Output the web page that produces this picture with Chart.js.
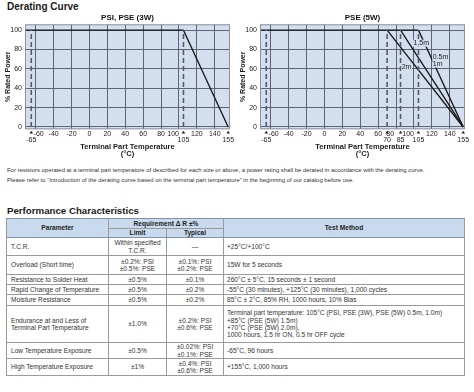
<!DOCTYPE html>
<html><head><meta charset="utf-8">
<script src="https://cdn.jsdelivr.net/npm/chart.js@4.4.1/dist/chart.umd.min.js"></script>
<style>
body{margin:0;width:474px;height:392px;background:#fff;font-family:"Liberation Sans",Arial,sans-serif;color:#222;position:relative;overflow:hidden}
.h{position:absolute;left:7px;font-weight:bold;font-size:10px;color:#1a1a1a;line-height:12px;white-space:nowrap}
canvas{position:absolute;top:10px}
#c1{left:0}
#c2{left:235px}
.note{position:absolute;left:7px;font-size:5.93px;line-height:7px;white-space:nowrap;color:#333}
table{position:absolute;left:6px;top:218px;width:459px;border-collapse:collapse;table-layout:fixed;font-size:6.6px;line-height:7.4px;color:#333}
td,th{border:1px solid #9a9a9a;padding:0 3px;vertical-align:middle;overflow:hidden;white-space:nowrap}
th{background:#c9daee;font-weight:bold;color:#222}
thead tr:first-child th{border-top:1px solid #7f93ad}
thead tr:last-child th,thead tr:first-child th[rowspan]{border-bottom:1px solid #7f93ad}
td.c{text-align:center}
td.p{padding-left:4px}
</style></head>
<body>
<div class="h" style="top:1px">Derating Curve</div>
<canvas id="c1" width="237" height="150"></canvas>
<canvas id="c2" width="237" height="150"></canvas>
<div class="note" style="top:167px">For resistors operated at a terminal part temperature of described for each size or above, a power rating shall be derated in accordance with the derating curve.</div>
<div class="note" style="top:177px">Please refer to “Introduction of the derating curve based on the terminal part temperature” in the beginning of our catalog before use.</div>
<div class="h" style="top:205px;font-size:9.7px">Performance Characteristics</div>
<table>
<colgroup><col style="width:102px"><col style="width:58px"><col style="width:57px"><col></colgroup>
<thead>
<tr style="height:10px"><th rowspan="2">Parameter</th><th colspan="2">Requirement Δ R ±%</th><th rowspan="2">Test Method</th></tr>
<tr style="height:9px"><th>Limit</th><th>Typical</th></tr>
</thead>
<tbody>
<tr style="height:18px"><td class="p">T.C.R.</td><td class="c">Within specified<br>T.C.R.</td><td class="c">—</td><td>+25°C/+100°C</td></tr>
<tr style="height:19px"><td class="p">Overload (Short time)</td><td class="c">±0.2%: PSI<br>±0.5%: PSE</td><td class="c">±0.1%: PSI<br>±0.2%: PSE</td><td>15W for 5 seconds</td></tr>
<tr style="height:10px"><td class="p">Resistance to Solder Heat</td><td class="c">±0.5%</td><td class="c">±0.1%</td><td>260°C ± 5°C, 15 seconds ± 1 second</td></tr>
<tr style="height:10px"><td class="p">Rapid Change of Temperature</td><td class="c">±0.5%</td><td class="c">±0.2%</td><td>-55°C (30 minutes), +125°C (30 minutes), 1,000 cycles</td></tr>
<tr style="height:11px"><td class="p">Moisture Resistance</td><td class="c">±0.5%</td><td class="c">±0.2%</td><td>85°C ± 2°C, 85% RH, 1000 hours, 10% Bias</td></tr>
<tr style="height:37px"><td class="p">Endurance at and Less of<br>Terminal Part Temperature</td><td class="c">±1.0%</td><td class="c">±0.2%: PSI<br>±0.6%: PSE</td><td>Terminal part temperature: 105°C (PSI, PSE (3W), PSE (5W) 0.5m, 1.0m)<br>+85°C (PSE (5W) 1.5m)<br>+70°C (PSE (5W) 2.0m),<br>1000 hours, 1.5 hr ON, 0.5 hr OFF cycle</td></tr>
<tr style="height:16px"><td class="p">Low Temperature Exposure</td><td class="c">±0.5%</td><td class="c">±0.02%: PSI<br>±0.1%: PSE</td><td>-65°C, 96 hours</td></tr>
<tr style="height:17px"><td class="p">High Temperature Exposure</td><td class="c">±1%</td><td class="c">±0.4%: PSI<br>±0.6%: PSE</td><td>+155°C, 1,000 hours</td></tr>
</tbody></table>
<script>
// ---- data ----
const xTicks = [-60, -40, -20, 0, 20, 40, 60, 80, 100, 120, 140];
const yTicks = [0, 20, 40, 60, 80, 100];
const xMin = -72, xMax = 157, yMin = -2.4, yMax = 106;

// PSI, PSE (3W)
const markers3W = [-65, 105, 155];
const dashed3W = [-65, 105];
const curve3W_T = [-72, 105, 155];
const curve3W_P = [100, 100, 0];

// PSE (5W)
const markers5W = [-65, 70, 85, 105, 155];
const dashed5W = [-65, 70, 85, 105];
const flat5W_T = [-72, 105];
const flat5W_P = [100, 100];
const lead2m_T = [70, 155];
const lead15m_T = [85, 155];
const lead1m_T = [105, 155];
const slope_P = [100, 0];
const leadLabels = ['2m', '1.5m', '0.5m', '1m'];
const leadLabel_T = [86.3, 99.5, 121, 121];
const leadLabel_P = [62, 86.5, 72, 65];

const pts = (xs, ys) => xs.map((x, i) => ({x, y: ys[i]}));
const BG = '#d3dfee', GRID = '#5d6574', INK = '#151515';

function solid(xs, ys) {
  return {data: pts(xs, ys), borderColor: INK, borderWidth: 1.3, pointRadius: 0, showLine: true, fill: false};
}
function dashed(t) {
  return {data: pts([t, t], [0, 100]), borderColor: '#555b66', borderWidth: 1.6, borderDash: [5, 3], pointRadius: 0, showLine: true, fill: false};
}

const decor = {
  id: 'decor',
  beforeDraw(c) {
    const a = c.chartArea, ctx = c.ctx;
    ctx.save(); ctx.fillStyle = BG; ctx.fillRect(a.left, a.top, a.right - a.left, a.bottom - a.top); ctx.restore();
  },
  afterDraw(c, args, o) {
    const a = c.chartArea, ctx = c.ctx, xs = c.scales.x, ys = c.scales.y;
    ctx.save();
    ctx.strokeStyle = '#8c929c'; ctx.lineWidth = 1;
    ctx.strokeRect(a.left + 0.5, a.top + 0.5, a.right - a.left - 1, a.bottom - a.top - 1);
    ctx.fillStyle = '#222';
    ctx.font = '7px "Liberation Sans", Arial, sans-serif';
    ctx.textAlign = 'center'; ctx.textBaseline = 'top';
    (o.markers || []).forEach(v => {
      const px = xs.getPixelForValue(v);
      ctx.beginPath();
      ctx.moveTo(px, a.bottom + 1.5); ctx.lineTo(px - 1.8, a.bottom + 4.2); ctx.lineTo(px + 1.8, a.bottom + 4.2);
      ctx.closePath(); ctx.fill();
      ctx.fillText(String(v), px, a.bottom + 7.2);
    });
    (o.labels || []).forEach((t, i) => {
      const px = xs.getPixelForValue(o.lx[i]), py = ys.getPixelForValue(o.ly[i]);
      ctx.textAlign = 'left'; ctx.textBaseline = 'middle';
      const w = ctx.measureText(t).width;
      ctx.fillStyle = BG; ctx.fillRect(px - 0.5, py - 3.5, w + 1, 7);
      ctx.fillStyle = '#222'; ctx.fillText(t, px, py);
    });
    ctx.restore();
  }
};

function makeChart(id, title, datasets, markers, labels) {
  const tickLabel = v => {
    let s = String(v);
    if (markers.some(m => m - v > 0 && m - v <= 6)) s = s + '      ';
    if (markers.some(m => v - m > 0 && v - m <= 6)) s = '   ' + s;
    return s;
  };
  return new Chart(document.getElementById(id), {
    type: 'scatter',
    data: {datasets},
    options: {
      responsive: false, animation: false, events: [],
      layout: {padding: {left: 0, right: 7, top: 0, bottom: 0}},
      plugins: {
        legend: {display: false}, tooltip: {enabled: false},
        title: {display: true, text: title, fullSize: false, color: '#111',
                font: {family: '"Liberation Sans", Arial, sans-serif', size: 8, weight: 'bold'},
                padding: {top: 2.5, bottom: 2.2}},
        decor: {markers, labels: labels ? labels.t : [], lx: labels ? labels.x : [], ly: labels ? labels.y : []}
      },
      scales: {
        x: {
          type: 'linear', min: xMin, max: xMax,
          afterBuildTicks: s => { s.ticks = xTicks.map(v => ({value: v})); },
          afterFit: s => { s.height = 30.7; },
          grid: {color: GRID, lineWidth: 1, drawTicks: false},
          border: {display: false},
          ticks: {autoSkip: false, maxRotation: 0, minRotation: 0, padding: 1, color: '#222',
                  font: {family: '"Liberation Sans", Arial, sans-serif', size: 7}, callback: tickLabel},
          title: {display: true, text: ['Terminal Part Temperature', '(°C)'], color: '#1a1a1a',
                  font: {family: '"Liberation Sans", Arial, sans-serif', size: 7.5, weight: 'bold', lineHeight: 1},
                  padding: {top: 0, bottom: 2}}
        },
        y: {
          type: 'linear', min: yMin, max: yMax,
          afterBuildTicks: s => { s.ticks = yTicks.map(v => ({value: v})); },
          afterFit: s => { s.width = 25; },
          grid: {color: GRID, lineWidth: 1, drawTicks: false},
          border: {display: false},
          ticks: {padding: 3, color: '#222', font: {family: '"Liberation Sans", Arial, sans-serif', size: 7}},
          title: {display: true, text: '% Rated Power', color: '#1a1a1a',
                  font: {family: '"Liberation Sans", Arial, sans-serif', size: 7, weight: 'bold'},
                  padding: {top: 4, bottom: 0}}
        }
      }
    },
    plugins: [decor]
  });
}

makeChart('c1', 'PSI, PSE (3W)',
  [...dashed3W.map(dashed), solid(curve3W_T, curve3W_P)],
  markers3W, null);

makeChart('c2', 'PSE (5W)',
  [...dashed5W.map(dashed), solid(flat5W_T, flat5W_P), solid(lead2m_T, slope_P), solid(lead15m_T, slope_P), solid(lead1m_T, slope_P)],
  markers5W, {t: leadLabels, x: leadLabel_T, y: leadLabel_P});
</script>
</body></html>
